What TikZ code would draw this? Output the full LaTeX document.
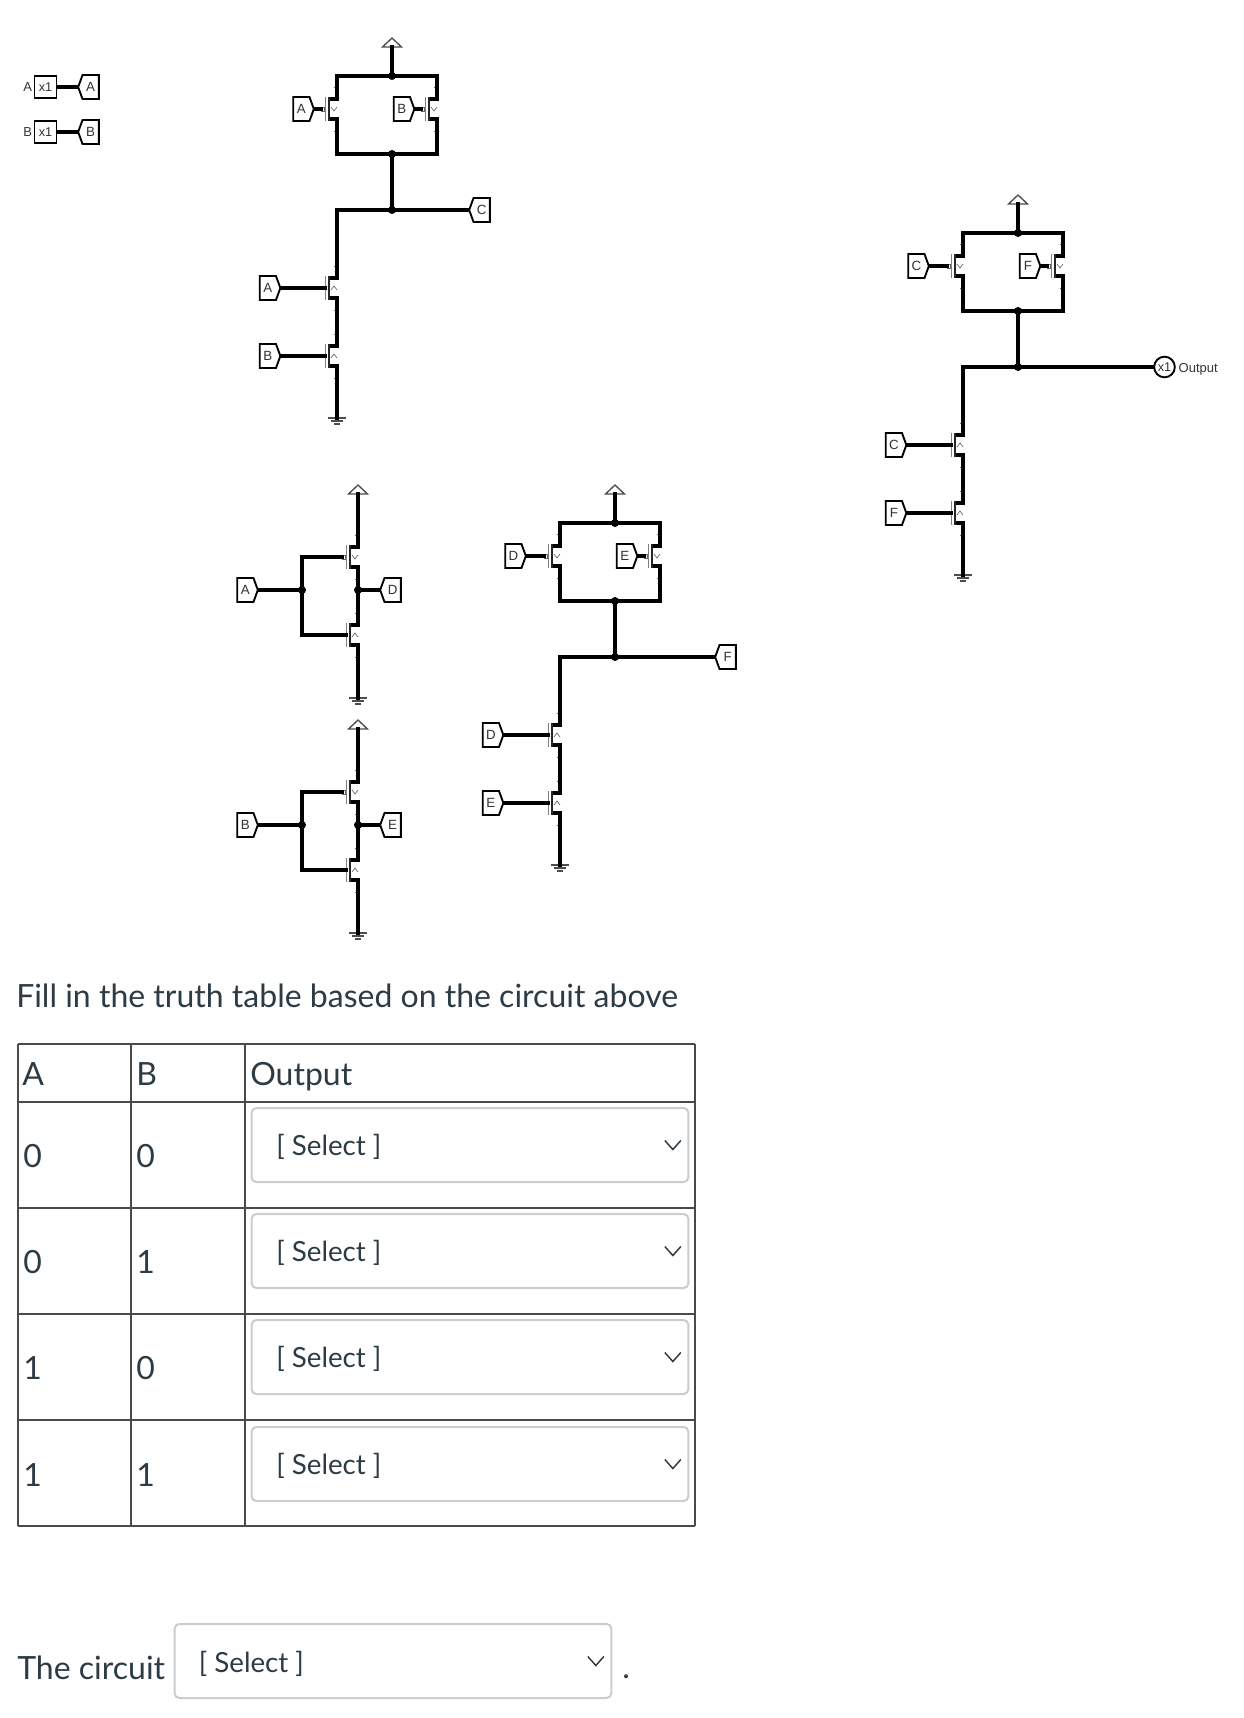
\documentclass[tikz,border=0pt]{standalone}
\usepackage{fontspec}
\setmainfont{Lato}
\newfontfamily\circuitfont{Liberation Sans}
\usetikzlibrary{calc}
\usetikzlibrary{positioning}
\usetikzlibrary{shapes.symbols}
\definecolor{canvastext}{HTML}{2D3B45}
\definecolor{canvasline}{HTML}{C7CDD1}
\definecolor{gridline}{HTML}{4A4A4A}
\definecolor{labeltext}{HTML}{333333}
\def\pxunit{0.75pt}
\def\xlabel{\raisebox{-1.5pt}{x1}}
\tikzset{wire/.style={line width=2.4pt, line cap=rect, line join=miter}}
\tikzset{barlight/.style={line width=1.3pt, draw=gray}}
\tikzset{barthin/.style={line width=0.8pt, draw=black!85}}
\tikzset{finemark/.style={line width=0.5pt, draw=black!60}}
\tikzset{symline/.style={line width=1pt, draw=black!70}}
\tikzset{junction/.style={circle, fill=black, inner sep=0pt, minimum size=6pt}}
\tikzset{sigtag/.style={signal, signal pointer angle=140, draw=black, fill=white, line width=1.4pt,
    inner sep=0pt, minimum width=15.5pt, minimum height=18pt, text=labeltext, font=\circuitfont\fontsize{10}{12}\selectfont}}
\tikzset{intag/.style={sigtag, signal to=east, xshift=-2pt}}
\tikzset{outtag/.style={sigtag, signal to=west, xshift=0.5pt}}
\tikzset{xbox/.style={draw=black, fill=white, line width=1.4pt, inner sep=0pt, minimum size=16.5pt,
    text=labeltext, font=\circuitfont\fontsize{9.5}{11}\selectfont}}
\tikzset{xcircle/.style={xbox, circle, minimum size=15.5pt}}
\tikzset{pinlabel/.style={inner sep=0pt, text=labeltext, font=\circuitfont\fontsize{9.75}{12}\selectfont}}
\tikzset{bodytext/.style={anchor=base west, inner sep=0pt, text=canvastext, font=\fontsize{24}{29}\selectfont}}
\tikzset{selecttext/.style={anchor=west, inner sep=0pt, text=canvastext, font=\fontsize{20.8}{26}\selectfont}}
\tikzset{selectbox/.style={draw=canvasline, line width=1.5pt, rounded corners=3.5pt, inner sep=0pt,
    minimum width=327.5pt, minimum height=55.5pt}}
\tikzset{chevron/.style={draw=canvastext, line width=1.1pt}}
\tikzset{tablegrid/.style={draw=gridline, line width=1.2pt}}
% transistor, centre on the rail wire: name, x, y
\newcommand{\mosbody}[3]{
  \begin{scope}[shift={(#2,#3)}]
    \coordinate (#1-d) at (0,-10);
    \coordinate (#1-s) at (0,10);
    \draw[wire] (#1-d) -- (-7,-10);
    \draw[wire] (#1-s) -- (-7,10);
    \draw[barthin] (-8,-12) -- (-8,12);
    \draw[barlight] (-11.5,-12) -- (-11.5,12);
    \draw[finemark] (-3.5,-22) -- (-2,-22);
    \draw[finemark] (-3.5,22) -- (-2,22);
  \end{scope}
}
\newcommand{\nfet}[3]{
  \mosbody{#1}{#2}{#3}
  \begin{scope}[shift={(#2,#3)}]
    \coordinate (#1-g) at (-12,0);
    \draw[finemark] (-6,2) -- (-3,-2) -- (0,2);
  \end{scope}
}
\newcommand{\pfet}[3]{
  \mosbody{#1}{#2}{#3}
  \begin{scope}[shift={(#2,#3)}]
    \coordinate (#1-g) at (-16,0);
    \draw[finemark] (-6,-2) -- (-3,2) -- (0,-2);
    \draw[finemark, fill=white] (-15.5,-2) rectangle (-12.5,2);
  \end{scope}
}
\newcommand{\vddsym}[3]{
  \coordinate (#1) at (#2,#3);
  \draw[symline, fill=white, line join=miter] (#2-9.5,#3) -- (#2,#3-9) -- (#2+9.5,#3) -- cycle;
}
\newcommand{\gndsym}[3]{
  \coordinate (#1) at (#2,#3);
  \draw[symline] (#2-9,#3) -- (#2+9,#3);
  \draw[symline] (#2-6,#3+3) -- (#2+6,#3+3);
  \draw[symline] (#2-3,#3+6) -- (#2+3,#3+6);
}
\begin{document}
\begin{tikzpicture}[x=\pxunit,y=-\pxunit]

\useasboundingbox (0,0) rectangle (1244,1718);

%% input pins
\node[xbox] (xA) at (45.5,87) {\xlabel};
\node[xbox] (xB) at (45.5,132) {\xlabel};
\node[pinlabel, left=1pt of xA] (lblA) {A};
\node[pinlabel, left=1pt of xB] (lblB) {B};
\node[outtag] (pinA) at (90,87) {A};
\node[outtag] (pinB) at (90,132) {B};
\draw[wire] (xA) -- (pinA.west);
\draw[wire] (xB) -- (pinB.west);

%% the three NAND cells
\foreach \cell/\dx/\dy/\ina/\inb/\pax in {nc/0/0/A/B/304, nf/223/447/D/E/293, no/626/157/C/F/293}{
  \begin{scope}[shift={(\dx,\dy)}]
    \pfet{\cell-pa}{337}{109}
    \pfet{\cell-pb}{437}{109}
    \nfet{\cell-na}{337}{288}
    \nfet{\cell-nb}{337}{356}
    \vddsym{\cell-vdd}{392}{47}
    \gndsym{\cell-gnd}{337}{418}
    \node[junction] (\cell-top) at (392,76) {};
    \node[junction] (\cell-bot) at (392,154) {};
    \node[junction] (\cell-out) at (392,210) {};
    \node[intag] (\cell-tpa) at (\pax,109) {\ina};
    \node[intag] (\cell-tpb) at (404.5,109) {\inb};
    \node[intag] (\cell-tna) at (270.5,288) {\ina};
    \node[intag] (\cell-tnb) at (270.5,356) {\inb};
    \draw[wire] (\cell-vdd) -- (\cell-top);
    \draw[wire] (\cell-pa-d) |- (\cell-top.center) -| (\cell-pb-d);
    \draw[wire] (\cell-pa-s) |- (\cell-bot.center) -| (\cell-pb-s);
    \draw[wire] (\cell-bot) -- (\cell-out);
    \draw[wire] (\cell-na-d) |- (\cell-out.center);
    \draw[wire] (\cell-na-s) -- (\cell-nb-d);
    \draw[wire] (\cell-nb-s) -- (\cell-gnd);
    \draw[wire] (\cell-tpa.east) -- (\cell-pa-g);
    \draw[wire] (\cell-tpb.east) -- (\cell-pb-g);
    \draw[wire] (\cell-tna.east) -- (\cell-na-g);
    \draw[wire] (\cell-tnb.east) -- (\cell-nb-g);
  \end{scope}
}

%% the two inverters
\foreach \cell/\dy/\ina/\outl in {ia/0/A/D, ib/235/B/E}{
  \begin{scope}[shift={(0,\dy)}]
    \pfet{\cell-p}{358}{557}
    \nfet{\cell-n}{358}{635}
    \vddsym{\cell-vdd}{358}{494}
    \gndsym{\cell-gnd}{358}{698}
    \node[junction] (\cell-in) at (302,590) {};
    \node[junction] (\cell-out) at (358,590) {};
    \node[intag] (\cell-tin) at (248,590) {\ina};
    \node[outtag] (\cell-tout) at (392,590) {\outl};
    \draw[wire] (\cell-vdd) -- (\cell-p-d);
    \draw[wire] (\cell-p-s) -- (\cell-out);
    \draw[wire] (\cell-out) -- (\cell-n-d);
    \draw[wire] (\cell-n-s) -- (\cell-gnd);
    \draw[wire] (\cell-p-g) -| (\cell-in);
    \draw[wire] (\cell-n-g) -| (\cell-in);
    \draw[wire] (\cell-tin.east) -- (\cell-in);
    \draw[wire] (\cell-out) -- (\cell-tout.west);
  \end{scope}
}

%% outputs of the NAND cells
\node[outtag] (tagC) at (481,210) {C};
\node[outtag] (tagF) at (727,657) {F};
\node[xcircle] (xOut) at (1164.5,367) {\xlabel};
\node[pinlabel, right=2pt of xOut, yshift=-1.5pt] (lblOut) {Output};
\draw[wire] (nc-out) -- (tagC.west);
\draw[wire] (nf-out) -- (tagF.west);
\draw[wire] (no-out) -- (xOut);

%% truth table
\node[bodytext] (title) at (16,1007) {Fill in the truth table based on the circuit above};
\foreach \ypos/\rowname in {1044/r0, 1102/r1, 1208/r2, 1314/r3, 1420/r4, 1526/r5}{
  \draw[tablegrid] (18,\ypos) -- (695,\ypos);
}
\foreach \xpos/\colname in {18/c0, 131/c1, 245/c2, 695/c3}{
  \draw[tablegrid] (\xpos,1044) -- (\xpos,1526);
}
\node[bodytext] (headA) at (22,1085) {A};
\node[bodytext] (headB) at (136,1085) {B};
\node[bodytext] (headOut) at (250,1085) {Output};
\foreach \n/\ya/\ca/\cb in {1/1166/0/0, 2/1272/0/1, 3/1378/1/0, 4/1485/1/1}{
  \node[bodytext] (cellA\n) at (23,\ya+1) {\ca};
  \node[bodytext] (cellB\n) at (136,\ya+1) {\cb};
  \node[selectbox] (sel\n) at (470,\ya-21) {};
  \node[selecttext] (seltxt\n) at (276,\ya-19) {[ Select ]};
  \draw[chevron] ($(sel\n.east)+(-24.5,-4.5)$) -- ($(sel\n.east)+(-16.5,4.5)$) -- ($(sel\n.east)+(-8.5,-4.5)$);
}

%% last line
\node[bodytext] (circuit) at (17,1679) {The circuit};
\node[selectbox] (selLast) at (393,1661) {};
\node[selecttext] (seltxtLast) at (198.5,1663.5) {[ Select ]};
\draw[chevron] ($(selLast.east)+(-24.5,-4.5)$) -- ($(selLast.east)+(-16.5,4.5)$) -- ($(selLast.east)+(-8.5,-4.5)$);
\node[bodytext] (stop) at (622,1678) {.};

\end{tikzpicture}
\end{document}
